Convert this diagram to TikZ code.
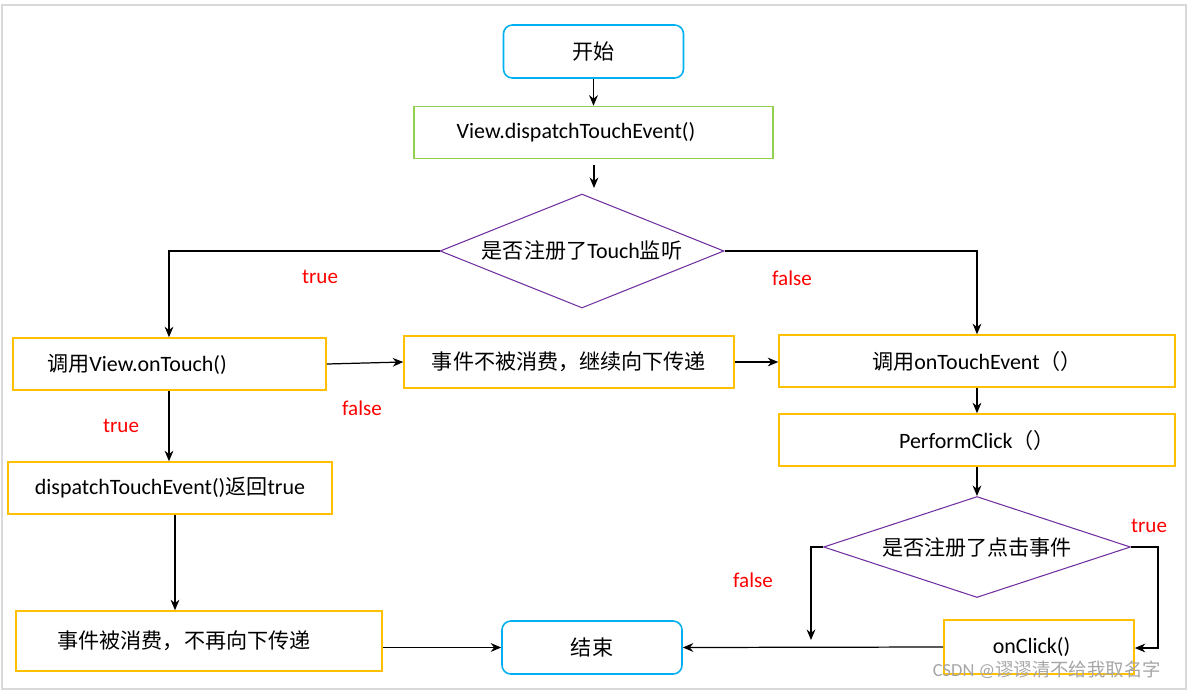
\documentclass[tikz,border=0pt]{standalone}
\usepackage{fontspec}
\setmainfont{Carlito}
\newfontfamily\cjk{Noto Sans CJK SC}
\usetikzlibrary{shapes.geometric,arrows.meta}
\definecolor{cy}{HTML}{00B0F0}
\definecolor{gr}{HTML}{92D050}
\definecolor{pu}{HTML}{7030A0}
\definecolor{og}{HTML}{FFC000}
\begin{document}
\begin{tikzpicture}[x=0.02cm,y=-0.02cm,
 box/.style={draw=og,line width=0.9pt,minimum height=1.04cm,inner sep=0pt,font=\fontsize{12.5}{14}\selectfont},
 rbox/.style={draw=cy,line width=0.9pt,rounded corners=5pt,minimum width=3.6cm,minimum height=1.06cm,font=\cjk\fontsize{12}{14}\selectfont},
 dia/.style={draw=pu,line width=0.6pt,diamond,aspect=2.6,inner sep=0pt,font=\fontsize{12.5}{14}\selectfont},
 lab/.style={text=red,font=\fontsize{12}{14}\selectfont},
 arr/.style={-{Stealth[length=6pt,width=5pt]},line width=0.7pt}]
\useasboundingbox (0,0) rectangle (1188,691);
\draw[gray!30,line width=1pt] (2,5) rectangle (1186,689);
\node[rbox] (start) at (593.5,51.5) {开始};
\node[box,draw=gr,minimum width=7.18cm] (disp) at (593.5,132.5) {\hspace*{-0.7cm}View.dispatchTouchEvent()};
\node[dia,minimum width=5.68cm,minimum height=2.28cm] (d1) at (582,251) {{\cjk\fontsize{12}{14}\selectfont 是否注册了}Touch{\cjk\fontsize{12}{14}\selectfont 监听}};
\node[box,minimum width=6.26cm] (ont) at (169.5,364) {\hspace*{-1.3cm}{\cjk\fontsize{12}{14}\selectfont 调用}View.onTouch()};
\node[box,minimum width=6.6cm,font=\cjk\fontsize{12}{14}\selectfont] (nc) at (569,362) {事件不被消费，继续向下传递};
\node[box,minimum width=7.92cm] (ote) at (977,361) {{\cjk\fontsize{12}{14}\selectfont 调用}onTouchEvent{\cjk\fontsize{12}{14}\selectfont （）}};
\node[box,minimum width=7.92cm] (pc) at (977,440) {PerformClick{\cjk\fontsize{12}{14}\selectfont （）}};
\node[dia,minimum width=6.14cm,minimum height=2.02cm,font=\cjk\fontsize{12}{14}\selectfont] (d2) at (977,547) {是否注册了点击事件};
\node[box,minimum width=6.48cm] (dret) at (170,488) {dispatchTouchEvent(){\cjk\fontsize{12}{14}\selectfont 返回}true};
\node[box,minimum width=7.32cm,minimum height=1.2cm,font=\cjk\fontsize{12}{14}\selectfont] (cons) at (199,641) {\hspace*{-0.6cm}事件被消费，不再向下传递};
\node[rbox] (end) at (592,647.5) {结束};
\node[box,minimum width=3.8cm,minimum height=1.08cm] (oc) at (1039,647) {\hspace*{-0.3cm}onClick()};
\coordinate (c1) at (169,251);
\coordinate (c2) at (977,251);
\coordinate (c3) at (811,547);
\coordinate (c4) at (811,640);
\coordinate (c5) at (1158,547);
\coordinate (c6) at (1158,648);
\coordinate (c7) at (594,165);
\coordinate (c8) at (594,188);
\draw[arr] (start) -- (disp);
\draw[arr] (c7) -- (c8);
\draw[arr] (d1.west) -- (c1) -- (ont.north -| c1);
\draw[arr] (d1.east) -- (c2) -- (ote.north);
\draw[arr] (ont.east) -- (nc.west);
\draw[arr] (nc.east) -- (ote.west |- nc.east);
\draw[arr] (ont.south -| c1) -- (dret.north -| c1);
\draw[arr] (ote) -- (pc);
\draw[arr] (pc) -- (d2.north);
\draw[arr] (dret.south -| 175,0) -- (cons.north -| 175,0);
\draw[arr] (d2.west) -- (c3) -- (c4);
\draw[arr] (d2.east) -- (c5) -- (c6) -- (oc.east |- c6);
\draw[arr] (oc.west) -- (end.east);
\draw[arr] (cons.east |- end.west) -- (end.west);
\node[lab] at (320,277) {true};
\node[lab] at (792,278) {false};
\node[lab] at (362,408) {false};
\node[lab] at (121,426) {true};
\node[lab] at (753,580) {false};
\node[lab] at (1149,526) {true};
\node[text=gray!70,font=\fontsize{10.5}{12}\selectfont] at (1047,670) {CSDN @{\cjk 谬谬清不给我取名字}};
\end{tikzpicture}
\end{document}
